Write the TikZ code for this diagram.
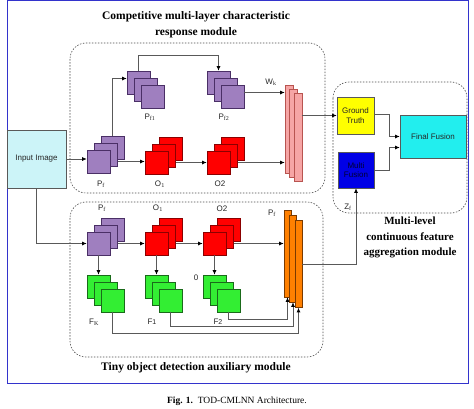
\documentclass[tikz,border=0pt]{standalone}
\usepackage{fontspec}
\setmainfont{Liberation Serif}
\setsansfont{Liberation Sans}
\usetikzlibrary{arrows.meta,calc}
\pgfdeclarelayer{background}
\pgfsetlayers{background,main}
\definecolor{purp}{HTML}{9F7FBF}
\definecolor{purpd}{HTML}{4A2F66}
\definecolor{redf}{HTML}{FF0000}
\definecolor{redd}{HTML}{8B0000}
\definecolor{grnf}{HTML}{33EE33}
\definecolor{grnd}{HTML}{1A6A1A}
\definecolor{pinkf}{HTML}{F6A5A5}
\definecolor{pinkd}{HTML}{B85450}
\definecolor{orf}{HTML}{FF8000}
\definecolor{ord}{HTML}{7A3A00}
\definecolor{inf}{HTML}{CCF4F8}
\definecolor{gtf}{HTML}{FFFF00}
\definecolor{mff}{HTML}{0000E6}
\definecolor{fff}{HTML}{22EEEE}
\definecolor{frame}{HTML}{3333CC}
\tikzset{
  sqbase/.style={minimum size=23pt, inner sep=0pt, line width=0.6pt},
  psq/.style={sqbase, fill=purp, draw=purpd},
  rsq/.style={sqbase, fill=redf, draw=redd},
  gsq/.style={sqbase, fill=grnf, draw=grnd},
  pkbar/.style={minimum width=8pt, minimum height=88pt, inner sep=0pt, fill=pinkf, draw=pinkd, line width=0.6pt},
  orbar/.style={minimum width=7pt, minimum height=87pt, inner sep=0pt, fill=orf, draw=ord, line width=0.6pt},
  conn/.style={draw=black!65, line width=0.7pt},
  arr/.style={conn, -{Latex[length=4.5pt,width=4pt,color=black]}},
  lbl/.style={font=\sffamily\fontsize{8}{9}\selectfont, text=black!85, inner sep=0pt},
  boxtxt/.style={font=\sffamily\fontsize{8}{9.5}\selectfont, text=black!85, align=center, inner sep=0pt, line width=0.6pt},
  ttl/.style={font=\bfseries\fontsize{11.5}{16}\selectfont, align=center, inner sep=0pt},
  modbox/.style={draw=black!70, dash pattern=on 1.5pt off 1.5pt, rounded corners=16pt, line width=0.6pt}
}
\begin{document}
\begin{tikzpicture}[x=1pt,y=-1pt]
\useasboundingbox (0,0) rectangle (474,408);
\begin{pgfonlayer}{background}
\fill[white] (0,0) rectangle (474,408);
\end{pgfonlayer}
\draw[frame, line width=1pt] (7.5,0.5) rectangle (468,383);

% module boxes
\draw[modbox] (70,43) rectangle (325,193);
\draw[modbox] (70,202) rectangle (323,357);
\draw[modbox] (333,82) rectangle (467,213);

% titles
\node[ttl] (t1) at (196,25) {Competitive multi-layer characteristic\\response module};
\node[ttl] (t2) at (196,368) {Tiny object detection auxiliary module};
\node[ttl, font=\bfseries\fontsize{11}{15.5}\selectfont] (t3) at (410,237.5) {Multi-level\\continuous feature\\aggregation module};
\node[inner sep=0pt, font=\fontsize{9.5}{11}\selectfont] (cap) at (237,401) {\textbf{Fig. 1.}\ \ TOD-CMLNN Architecture.};

% input
\node[boxtxt, draw=black!65, fill=inf, minimum width=59pt, minimum height=58pt] (in) at (36.5,159) {Input Image};

% top row P_f
\node[psq] (pfC) at (112.5,147.5) {};
\node[psq] (pfB) at (105.5,154.5) {};
\node[psq] (pfA) at (98.5,161.5) {};
% P_f1
\node[psq] (pf1a) at (138.5,82.5) {};
\node[psq] (pf1b) at (145.5,89.5) {};
\node[psq] (pf1c) at (152.5,96.5) {};
% P_f2
\node[psq] (pf2a) at (218.5,82.5) {};
\node[psq] (pf2b) at (225.5,89.5) {};
\node[psq] (pf2c) at (232.5,96.5) {};
% O1 top
\node[rsq] (o1C) at (170.5,148.5) {};
\node[rsq] (o1B) at (163.5,155.5) {};
\node[rsq] (o1A) at (156.5,162.5) {};
% O2 top
\node[rsq] (o2C) at (232.5,148.5) {};
\node[rsq] (o2B) at (225.5,155.5) {};
\node[rsq] (o2A) at (218.5,162.5) {};
% pink bars
\node[pkbar] (pk1) at (289,129) {};
\node[pkbar] (pk2) at (293.5,133) {};
\node[pkbar] (pk3) at (298,137) {};

% bottom row
\node[psq] (bpfC) at (112.5,229.5) {};
\node[psq] (bpfB) at (105.5,236.5) {};
\node[psq] (bpfA) at (98.5,243.5) {};
\node[rsq] (bo1C) at (170.5,229.5) {};
\node[rsq] (bo1B) at (163.5,236.5) {};
\node[rsq] (bo1A) at (156.5,243.5) {};
\node[rsq] (bo2C) at (228.5,229.5) {};
\node[rsq] (bo2B) at (221.5,236.5) {};
\node[rsq] (bo2A) at (214.5,243.5) {};
% greens
\node[gsq] (g1a) at (98.5,286.5) {};
\node[gsq] (g1b) at (105.5,293.5) {};
\node[gsq] (g1c) at (112.5,300.5) {};
\node[gsq] (g2a) at (156.5,286.5) {};
\node[gsq] (g2b) at (163.5,293.5) {};
\node[gsq] (g2c) at (170.5,300.5) {};
\node[gsq] (g3a) at (214.5,286.5) {};
\node[gsq] (g3b) at (221.5,293.5) {};
\node[gsq] (g3c) at (228.5,300.5) {};
% orange bars
\node[orbar] (or1) at (287.5,253.5) {};
\node[orbar] (or2) at (293,258.5) {};
\node[orbar] (or3) at (298.5,264) {};

% right module
\node[boxtxt, draw=black!65, fill=gtf, minimum width=37pt, minimum height=37pt] (gt) at (355.5,115.5) {Ground\\Truth};
\node[boxtxt, draw=black!65, fill=mff, text=black!80!blue, minimum width=36pt, minimum height=36pt] (mf) at (356,170) {Multi\\Fusion};
\node[boxtxt, draw=black!65, fill=fff, minimum width=66pt, minimum height=43pt] (ff) at (433,136.5) {Final Fusion};

% labels
\node[lbl] (lpf1) at (150,117) {P$_{\mathrm{f1}}$};
\node[lbl] (lpf2) at (224,117) {P$_{\mathrm{f2}}$};
\node[lbl] (lwk) at (271,82) {W$_{\mathrm{k}}$};
\node[lbl] (lpf) at (101,184) {P$_{\mathrm{f}}$};
\node[lbl] (lo1) at (160,184) {O$_1$};
\node[lbl] (lo2) at (220,184) {O2};
\node[lbl] (blpf) at (102,208) {P$_{\mathrm{f}}$};
\node[lbl] (blo1) at (158,208) {O$_1$};
\node[lbl] (blo2) at (222,209) {O2};
\node[lbl] (lpfo) at (272,213) {P$_{\mathrm{f}}$};
\node[lbl] (lzero) at (196,278) {0};
\node[lbl] (lfk) at (94,322) {F$_{\mathrm{K}}$};
\node[lbl] (lf1) at (152,322) {F{\fontsize{7}{8}\selectfont 1}};
\node[lbl] (lf2) at (218,322) {F{\fontsize{7}{8}\selectfont 2}};
\node[lbl] (lzf) at (348,207) {Z$_{\mathrm{f}}$};

% connectors
\begin{pgfonlayer}{background}
\draw[arr] (pfA.center) -- (pfA.center -| o1A.west);
\draw[arr] (o1A.center) -- (o1A.center -| o2A.west);
\draw[arr] (o2A.center) -- (o2A.center -| pk1.west);
\draw[arr] (bpfA.center) -- (bpfA.center -| bo1A.west);
\draw[arr] (bo1A.center) -- (bo1A.center -| bo2A.west);
\draw[arr] (bo2A.center) -- (bo2A.center -| or1.west);
\end{pgfonlayer}
\draw[arr] (in.east) -- (in.east -| pfA.west);
\draw[arr] (in.south) |- (bpfA.west);
\draw[arr] (pfC.north) |- ([yshift=4pt]pf1a.west);
\draw[arr] (pf1a.north) -- ++(0,-15) -| (pf2a.north);
\draw[arr] ([yshift=4pt]pf2c.east) -- ([yshift=4pt]pf2c.east -| pk1.west);
\draw[arr] (pk3.east |- gt.west) -- (gt.west);
\draw[arr] (bpfA.south) -- (g1a.north);
\draw[arr] (bo1A.south) -- (g2a.north);
\draw[arr] (bo2A.south) -- (g3a.north);
\draw[arr] (g3c.south) -- ++(0,7) -| (or1.south);
\draw[arr] (g2c.south) -- ++(0,14) -| (or2.south);
\draw[arr] (g1c.south) -- ++(0,21) -| (or3.south);
\draw[arr] (or3.east) -| (mf.south);
\draw[arr] ([yshift=1.5pt]gt.east) -- ++(15,0) |- (ff.west);
\draw[arr] (mf.east) -- ++(15,0) |- ([yshift=-11pt]ff.west);
\end{tikzpicture}
\end{document}
